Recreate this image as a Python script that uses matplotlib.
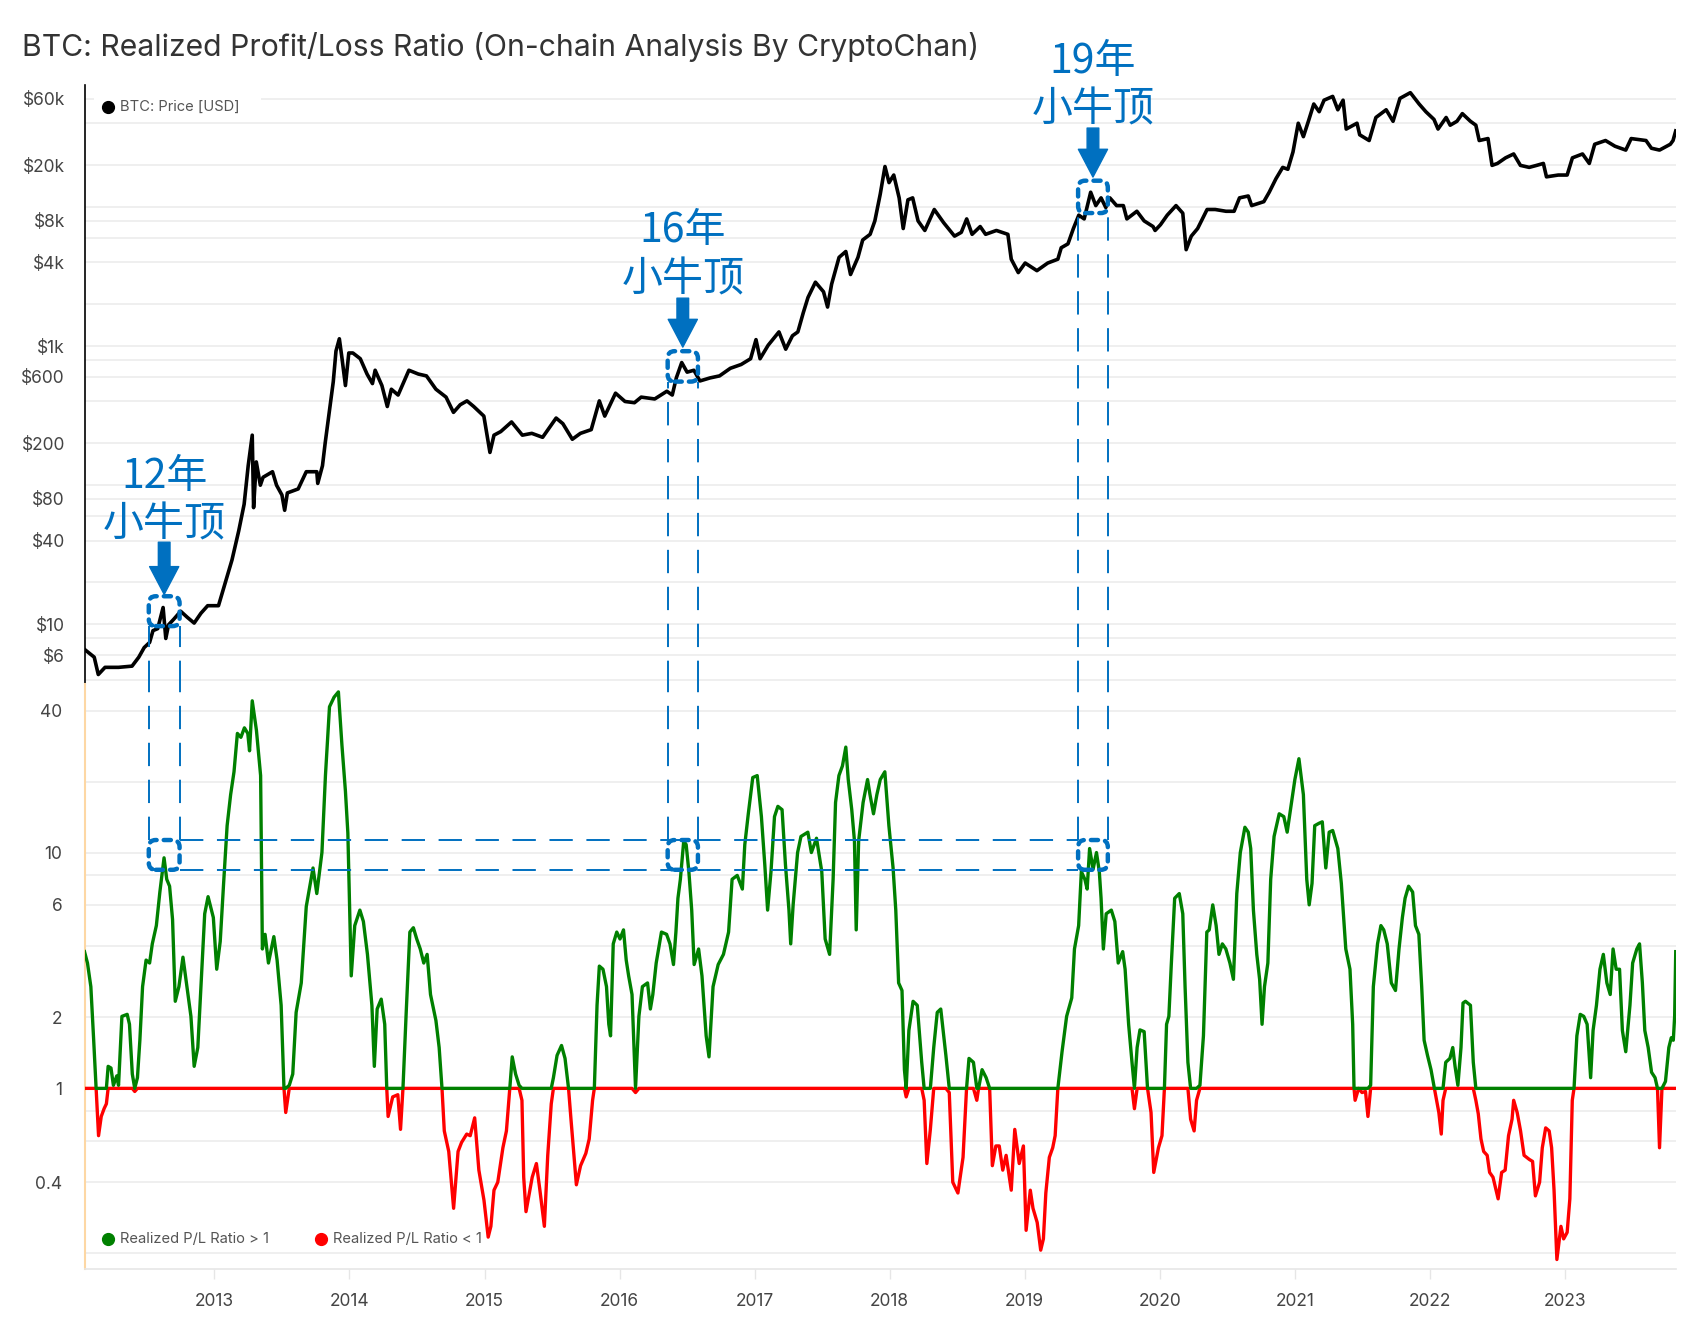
import numpy as np
import matplotlib
matplotlib.use("Agg")
import matplotlib.pyplot as plt
from matplotlib.patches import FancyBboxPatch, FancyArrowPatch
from matplotlib.transforms import IdentityTransform

plt.rcParams['font.family'] = ['Inter', 'DejaVu Sans']

# ---------------- data ----------------
price_years = [2012.038, 2012.11, 2012.14, 2012.19, 2012.29, 2012.39, 2012.44, 2012.48, 2012.52, 2012.545,
               2012.58, 2012.62, 2012.64, 2012.66, 2012.70, 2012.75, 2012.80, 2012.85, 2012.90, 2012.95,
               2013.03, 2013.08, 2013.13, 2013.18, 2013.22, 2013.25, 2013.28, 2013.29, 2013.31, 2013.34,
               2013.36, 2013.43, 2013.46, 2013.50, 2013.52, 2013.54, 2013.62, 2013.68, 2013.758, 2013.765,
               2013.80, 2013.82, 2013.85, 2013.88, 2013.90, 2013.925, 2013.945, 2013.97, 2013.995, 2014.025,
               2014.08, 2014.13, 2014.17, 2014.19, 2014.24, 2014.28, 2014.31, 2014.36, 2014.44, 2014.51,
               2014.57, 2014.64, 2014.715, 2014.77, 2014.82, 2014.87, 2014.92, 2014.995, 2015.04, 2015.07,
               2015.12, 2015.20, 2015.28, 2015.35, 2015.43, 2015.53, 2015.58, 2015.65, 2015.71, 2015.79,
               2015.85, 2015.89, 2015.97, 2016.04, 2016.11, 2016.16, 2016.26, 2016.35, 2016.39, 2016.42,
               2016.46, 2016.50, 2016.55, 2016.595, 2016.67, 2016.74, 2016.82, 2016.90, 2016.97, 2017.01,
               2017.04, 2017.10, 2017.18, 2017.23, 2017.28, 2017.32, 2017.36, 2017.395, 2017.45, 2017.51,
               2017.54, 2017.57, 2017.625, 2017.675, 2017.71, 2017.765, 2017.80, 2017.855, 2017.89, 2017.93,
               2017.965, 2017.995, 2018.03, 2018.07, 2018.10, 2018.135, 2018.17, 2018.21, 2018.26, 2018.33,
               2018.40, 2018.48, 2018.53, 2018.57, 2018.61, 2018.67, 2018.71, 2018.79, 2018.875, 2018.90,
               2018.952, 2019.003, 2019.09, 2019.17, 2019.245, 2019.27, 2019.32, 2019.36, 2019.40, 2019.44,
               2019.488, 2019.526, 2019.565, 2019.60, 2019.63, 2019.68, 2019.73, 2019.756, 2019.83, 2019.884,
               2019.95, 2019.965, 2020.005, 2020.055, 2020.12, 2020.17, 2020.195, 2020.233, 2020.28, 2020.35,
               2020.41, 2020.49, 2020.55, 2020.59, 2020.655, 2020.68, 2020.77, 2020.81, 2020.86, 2020.91,
               2020.948, 2020.986, 2021.025, 2021.063, 2021.10, 2021.14, 2021.18, 2021.216, 2021.28, 2021.318,
               2021.357, 2021.38, 2021.46, 2021.48, 2021.55, 2021.60, 2021.676, 2021.727, 2021.778, 2021.855,
               2021.92, 2021.97, 2022.03, 2022.06, 2022.12, 2022.15, 2022.20, 2022.24, 2022.30, 2022.34,
               2022.365, 2022.43, 2022.46, 2022.50, 2022.56, 2022.62, 2022.67, 2022.735, 2022.79, 2022.84,
               2022.863, 2022.95, 2023.016, 2023.055, 2023.13, 2023.18, 2023.22, 2023.30, 2023.37, 2023.45,
               2023.49, 2023.60, 2023.64, 2023.70, 2023.78, 2023.80, 2023.82]
price_usd = [6.6, 5.8, 4.35, 4.9, 4.9, 5.0, 5.8, 6.8, 7.4, 9.0,
             9.3, 13.2, 7.9, 9.9, 10.9, 12.4, 11.2, 10.2, 12.0, 13.6,
             13.6, 19.9, 29, 47, 73, 138, 229, 69, 147, 100,
             114, 125, 100, 85, 66, 88, 94, 125, 125, 103,
             138, 201, 334, 555, 922, 1130, 812, 521, 893, 893,
             812, 630, 538, 671, 521, 368, 490, 445, 671, 630,
             611, 490, 430, 334, 379, 404, 368, 314, 172, 229,
             243, 285, 229, 236, 221, 304, 277, 214, 236, 251,
             404, 314, 459, 400, 392, 430, 417, 474, 445, 591,
             762, 650, 671, 562, 591, 611, 693, 738, 812, 1114,
             812, 1015, 1266, 951, 1188, 1266, 1738, 2239, 2884, 2460,
             1910, 2793, 4350, 4795, 3275, 4350, 5800, 6370, 7955, 12400,
             19580, 15000, 17000, 11650, 7010, 11280, 11650, 7955, 6790, 9610,
             7710, 6180, 6580, 8220, 6370, 7245, 6370, 6790, 6370, 4220,
             3380, 3960, 3490, 3960, 4220, 5100, 5440, 7010, 8750, 8220,
             12790, 10250, 11650, 9930, 11650, 10250, 10250, 8220, 9330, 7955,
             7245, 6790, 7470, 8750, 10250, 9040, 4940, 6180, 7010, 9610,
             9610, 9330, 9330, 11650, 12020, 10250, 10940, 12790, 16000, 19300,
             18700, 24900, 40100, 32100, 41400, 55100, 48500, 58700, 62500, 50100,
             58700, 36400, 40100, 33100, 30100, 44100, 50100, 41400, 60500, 66500,
             55100, 48500, 42700, 36400, 44100, 38800, 41400, 47000, 41400, 38800,
             30100, 31100, 19950, 20600, 22600, 24100, 19950, 19300, 19950, 20600,
             16500, 17000, 17000, 22600, 24100, 20600, 28300, 30100, 27400, 25700,
             31100, 30100, 26500, 25700, 28300, 30100, 35300]

ratio_years = [2012.038, 2012.06, 2012.085, 2012.106, 2012.124, 2012.142, 2012.162, 2012.183, 2012.20, 2012.213,
               2012.234, 2012.252, 2012.277, 2012.290, 2012.315, 2012.354, 2012.371, 2012.392, 2012.41, 2012.43,
               2012.448, 2012.468, 2012.494, 2012.52, 2012.54, 2012.57, 2012.596, 2012.627, 2012.647, 2012.668,
               2012.69, 2012.71, 2012.737, 2012.767, 2012.80, 2012.826, 2012.85, 2012.877, 2012.90, 2012.928,
               2012.953, 2012.992, 2013.017, 2013.043, 2013.068, 2013.094, 2013.12, 2013.145, 2013.17, 2013.196,
               2013.222, 2013.247, 2013.26, 2013.28, 2013.311, 2013.342, 2013.355, 2013.375, 2013.40, 2013.44,
               2013.464, 2013.494, 2013.515, 2013.528, 2013.554, 2013.58, 2013.605, 2013.643, 2013.68, 2013.73,
               2013.758, 2013.796, 2013.822, 2013.852, 2013.886, 2013.918, 2013.944, 2013.97, 2013.988, 2014.013,
               2014.039, 2014.077, 2014.103, 2014.133, 2014.166, 2014.184, 2014.205, 2014.235, 2014.261, 2014.276,
               2014.286, 2014.32, 2014.358, 2014.378, 2014.396, 2014.42, 2014.447, 2014.473, 2014.498, 2014.524,
               2014.55, 2014.575, 2014.60, 2014.64, 2014.664, 2014.685, 2014.702, 2014.735, 2014.771, 2014.804,
               2014.83, 2014.868, 2014.894, 2014.927, 2014.958, 2014.996, 2015.027, 2015.047, 2015.07, 2015.098,
               2015.136, 2015.162, 2015.187, 2015.205, 2015.23, 2015.256, 2015.277, 2015.29, 2015.307, 2015.328,
               2015.353, 2015.384, 2015.41, 2015.443, 2015.468, 2015.494, 2015.51, 2015.537, 2015.57, 2015.596,
               2015.622, 2015.64, 2015.68, 2015.711, 2015.75, 2015.775, 2015.80, 2015.813, 2015.833, 2015.85,
               2015.877, 2015.903, 2015.92, 2015.933, 2015.953, 2015.979, 2016.003, 2016.029, 2016.049, 2016.067,
               2016.092, 2016.118, 2016.143, 2016.169, 2016.207, 2016.228, 2016.246, 2016.271, 2016.31, 2016.348,
               2016.373, 2016.399, 2016.417, 2016.432, 2016.45, 2016.475, 2016.493, 2016.513, 2016.534, 2016.552,
               2016.585, 2016.61, 2016.641, 2016.662, 2016.692, 2016.73, 2016.769, 2016.807, 2016.833, 2016.871,
               2016.909, 2016.927, 2016.953, 2016.986, 2017.019, 2017.05, 2017.075, 2017.096, 2017.121, 2017.147,
               2017.172, 2017.203, 2017.228, 2017.254, 2017.267, 2017.285, 2017.318, 2017.343, 2017.394, 2017.42,
               2017.458, 2017.497, 2017.522, 2017.555, 2017.581, 2017.599, 2017.624, 2017.65, 2017.675, 2017.693,
               2017.719, 2017.739, 2017.752, 2017.77, 2017.803, 2017.836, 2017.854, 2017.88, 2017.905, 2017.93,
               2017.964, 2017.994, 2018.025, 2018.045, 2018.066, 2018.091, 2018.109, 2018.122, 2018.142, 2018.173,
               2018.204, 2018.237, 2018.255, 2018.275, 2018.301, 2018.326, 2018.352, 2018.378, 2018.416, 2018.441,
               2018.467, 2018.505, 2018.543, 2018.569, 2018.587, 2018.62, 2018.645, 2018.658, 2018.684, 2018.714,
               2018.74, 2018.76, 2018.786, 2018.811, 2018.837, 2018.862, 2018.90, 2018.926, 2018.959, 2018.99,
               2019.01, 2019.041, 2019.061, 2019.092, 2019.118, 2019.138, 2019.156, 2019.182, 2019.207, 2019.225,
               2019.245, 2019.276, 2019.31, 2019.348, 2019.368, 2019.399, 2019.419, 2019.445, 2019.462, 2019.48,
               2019.506, 2019.531, 2019.552, 2019.565, 2019.582, 2019.603, 2019.641, 2019.667, 2019.692, 2019.725,
               2019.743, 2019.769, 2019.794, 2019.812, 2019.832, 2019.853, 2019.884, 2019.909, 2019.935, 2019.955,
               2019.99, 2020.016, 2020.034, 2020.05, 2020.067, 2020.085, 2020.11, 2020.144, 2020.17, 2020.187,
               2020.208, 2020.228, 2020.254, 2020.272, 2020.297, 2020.323, 2020.348, 2020.366, 2020.392, 2020.417,
               2020.438, 2020.463, 2020.489, 2020.519, 2020.545, 2020.570, 2020.596, 2020.63, 2020.655, 2020.673,
               2020.693, 2020.718, 2020.739, 2020.757, 2020.775, 2020.80, 2020.821, 2020.846, 2020.884, 2020.918,
               2020.943, 2020.969, 2021.0, 2021.03, 2021.063, 2021.088, 2021.106, 2021.127, 2021.147, 2021.178,
               2021.203, 2021.229, 2021.254, 2021.28, 2021.318, 2021.344, 2021.377, 2021.408, 2021.428, 2021.438,
               2021.446, 2021.472, 2021.497, 2021.523, 2021.541, 2021.561, 2021.581, 2021.612, 2021.637, 2021.658,
               2021.684, 2021.714, 2021.745, 2021.771, 2021.796, 2021.816, 2021.842, 2021.872, 2021.893, 2021.918,
               2021.939, 2021.957, 2021.982, 2022.008, 2022.033, 2022.066, 2022.084, 2022.097, 2022.117, 2022.148,
               2022.169, 2022.186, 2022.207, 2022.23, 2022.245, 2022.263, 2022.30, 2022.321, 2022.34, 2022.358,
               2022.378, 2022.398, 2022.424, 2022.442, 2022.467, 2022.505, 2022.531, 2022.557, 2022.582, 2022.608,
               2022.62, 2022.646, 2022.671, 2022.697, 2022.735, 2022.76, 2022.781, 2022.812, 2022.832, 2022.857,
               2022.883, 2022.901, 2022.919, 2022.94, 2022.97, 2022.99, 2023.016, 2023.036, 2023.054, 2023.067,
               2023.088, 2023.113, 2023.139, 2023.164, 2023.19, 2023.208, 2023.233, 2023.259, 2023.284, 2023.31,
               2023.335, 2023.356, 2023.379, 2023.404, 2023.425, 2023.45, 2023.481, 2023.501, 2023.532, 2023.552,
               2023.573, 2023.591, 2023.616, 2023.641, 2023.667, 2023.685, 2023.70, 2023.718, 2023.744, 2023.769,
               2023.787, 2023.802, 2023.812, 2023.82]
ratio_values = [3.8, 3.4, 2.7, 1.6, 1.0, 0.63, 0.76, 0.82, 0.86, 1.24,
                1.22, 1.03, 1.13, 1.03, 2.02, 2.06, 1.87, 1.15, 0.97, 1.11,
                1.6, 2.7, 3.5, 3.4, 4.1, 4.9, 6.8, 9.5, 7.7, 7.2,
                5.2, 2.34, 2.7, 3.6, 2.6, 2.02, 1.24, 1.49, 2.7, 5.5,
                6.5, 5.3, 3.2, 4.2, 7.4, 13.0, 17.6, 22, 32, 30.8,
                33.8, 32, 27, 44, 33, 21.2, 3.9, 4.5, 3.4, 4.4,
                3.5, 2.25, 1.0, 0.79, 1.03, 1.15, 2.1, 2.8, 5.9, 8.6,
                6.7, 10.0, 21.2, 41.5, 45.6, 48, 28.6, 18.2, 12.1, 3.0,
                4.9, 5.7, 5.1, 3.7, 2.25, 1.24, 2.17, 2.39, 1.87, 1.0,
                0.76, 0.92, 0.94, 0.67, 1.0, 2.1, 4.6, 4.8, 4.3, 3.9,
                3.4, 3.7, 2.5, 1.94, 1.49, 1.0, 0.66, 0.54, 0.31, 0.54,
                0.59, 0.64, 0.63, 0.75, 0.45, 0.335, 0.234, 0.26, 0.37, 0.40,
                0.56, 0.66, 1.0, 1.36, 1.15, 1.03, 0.89, 0.42, 0.30, 0.35,
                0.42, 0.48, 0.37, 0.26, 0.52, 0.86, 1.11, 1.38, 1.52, 1.34,
                1.0, 0.74, 0.39, 0.47, 0.53, 0.61, 0.89, 1.0, 2.25, 3.3,
                3.2, 2.7, 1.87, 1.67, 4.1, 4.6, 4.3, 4.7, 3.5, 3.0,
                2.5, 0.96, 2.02, 2.7, 2.8, 2.17, 2.5, 3.4, 4.6, 4.5,
                4.1, 3.35, 4.6, 6.4, 7.7, 11.2, 10.8, 8.3, 5.7, 3.35,
                3.9, 3.0, 1.67, 1.36, 2.7, 3.35, 3.7, 4.6, 7.7, 8.0,
                7.0, 10.8, 14.6, 20.8, 21.2, 14.2, 8.9, 5.7, 8.3, 14.2,
                15.7, 15.2, 8.9, 5.7, 4.1, 6.0, 10.0, 11.7, 12.2, 10.0,
                11.5, 8.3, 4.3, 3.7, 7.7, 16.3, 21.2, 23.3, 28, 20.4,
                15.2, 11.2, 4.7, 11.2, 16.3, 20.4, 17.6, 14.6, 17.6, 20.4,
                22, 13, 8.6, 5.7, 2.8, 2.6, 1.2, 0.92, 1.76, 2.34,
                2.25, 1.29, 0.89, 0.48, 0.67, 1.49, 2.1, 2.17, 1.38, 0.96,
                0.40, 0.36, 0.51, 1.0, 1.34, 1.29, 0.89, 1.0, 1.2, 1.11,
                1.0, 0.47, 0.57, 0.57, 0.45, 0.52, 0.37, 0.67, 0.48, 0.57,
                0.25, 0.37, 0.31, 0.27, 0.206, 0.23, 0.36, 0.51, 0.56, 0.63,
                1.0, 1.43, 2.02, 2.42, 3.9, 4.9, 8.3, 7.7, 7.0, 10.4,
                8.5, 10.0, 8.3, 6.4, 3.9, 5.5, 5.7, 5.1, 3.4, 3.8,
                3.2, 1.87, 1.29, 0.82, 1.49, 1.77, 1.74, 1.0, 0.79, 0.44,
                0.56, 0.63, 1.0, 1.87, 2.02, 3.35, 6.4, 6.7, 5.5, 2.7,
                1.29, 0.74, 0.66, 0.89, 1.03, 1.67, 4.6, 4.7, 6.0, 4.9,
                3.7, 4.1, 3.9, 3.4, 2.9, 6.7, 10.0, 12.8, 12.2, 10.4,
                5.7, 3.7, 2.9, 1.87, 2.7, 3.4, 7.7, 11.7, 14.6, 14.2,
                12.2, 15.4, 20.4, 25, 17.6, 7.7, 6.0, 7.4, 13, 13.3,
                13.5, 8.6, 12.2, 12.4, 10.4, 7.4, 3.9, 3.2, 1.87, 1.0,
                0.89, 1.0, 0.96, 0.97, 0.76, 1.03, 2.7, 4.1, 4.9, 4.7,
                4.1, 2.8, 2.6, 3.9, 5.3, 6.4, 7.2, 6.8, 4.9, 4.5,
                2.7, 1.6, 1.38, 1.2, 1.0, 0.79, 0.64, 0.89, 1.29, 1.34,
                1.49, 1.24, 1.03, 1.49, 2.3, 2.34, 2.25, 1.29, 0.89, 0.78,
                0.61, 0.54, 0.52, 0.44, 0.42, 0.34, 0.44, 0.45, 0.63, 0.74,
                0.89, 0.79, 0.66, 0.52, 0.50, 0.49, 0.35, 0.40, 0.56, 0.68,
                0.66, 0.56, 0.37, 0.188, 0.26, 0.23, 0.245, 0.34, 0.89, 1.0,
                1.67, 2.06, 2.02, 1.87, 1.11, 1.76, 2.25, 3.2, 3.7, 2.8,
                2.5, 3.9, 3.2, 3.2, 1.76, 1.43, 2.25, 3.4, 3.9, 4.1,
                2.8, 1.76, 1.49, 1.17, 1.11, 1.0, 0.56, 1.0, 1.07, 1.49,
                1.64, 1.6, 2.02, 3.8]

price_ticks = [6, 10, 40, 80, 200, 600, 1000, 4000, 8000, 20000, 60000]
price_tick_labels = ['$6', '$10', '$40', '$80', '$200', '$600', '$1k', '$4k', '$8k', '$20k', '$60k']
price_grid = [4, 6, 8, 10, 20, 40, 60, 80, 100, 200, 400, 600, 800, 1000, 2000, 4000, 6000,
              8000, 10000, 20000, 40000, 60000]
ratio_ticks = [0.4, 1, 2, 6, 10, 40]
ratio_tick_labels = ['0.4', '1', '2', '6', '10', '40']
ratio_grid = [0.2, 0.4, 0.6, 0.8, 1, 2, 4, 6, 8, 10, 20, 40]
year_ticks = list(range(2013, 2024))
year_labels = [str(y) for y in year_ticks]

title = "BTC: Realized Profit/Loss Ratio (On-chain Analysis By CryptoChan)"
top_labels = ["12年", "16年", "19年"]
sub_label = "小牛顶"
windows = [(2012.514, 2012.742), (2016.356, 2016.580), (2019.395, 2019.615)]
price_boxes = [(9.7, 15.9), (556, 920), (9060, 15480)]
ratio_band = (8.45, 11.3)
arrow_spans = [(38.9, 16.4), (2213, 984), (37000, 16440)]
label_levels = [(115, 52), (6800, 3000), (111000, 50000)]

# ---------------- figure ----------------
W, H = 1698, 1342
fig = plt.figure(figsize=(W / 100, H / 100), dpi=100)
fig.patch.set_facecolor('white')

def fx(px):
    return px / W

def fy(py):
    return 1 - py / H

left, right = 84.5, 1676
top_t, top_b = 85, 683.5
bot_t, bot_b = 683.5, 1269
ax1 = fig.add_axes([fx(left), fy(top_b), fx(right) - fx(left), (top_b - top_t) / H])
ax2 = fig.add_axes([fx(left), fy(bot_b), fx(right) - fx(left), (bot_b - bot_t) / H], sharex=ax1)

XMIN, XMAX = 2012.038, 2023.822
BLUE = '#0070c0'
GRID = '#eeeeee'
TXT = '#444444'

# price panel
ax1.plot(price_years, price_usd, color='black', lw=2.6, zorder=3, solid_joinstyle='round')
ax1.set_yscale('log')
ax1.set_ylim(3.75, 75500)
ax1.set_xlim(XMIN, XMAX)
ax1.set_yticks(price_grid, minor=True)
ax1.set_yticks(price_ticks)
ax1.set_yticklabels(price_tick_labels)
ax1.yaxis.set_minor_formatter(matplotlib.ticker.NullFormatter())
ax1.grid(True, which='both', axis='y', color=GRID, lw=1.3, zorder=0)
ax1.tick_params(axis='y', which='both', length=0, pad=14, labelsize=12.5, labelcolor=TXT)
ax1.tick_params(axis='x', which='both', length=0, labelbottom=False)
for s in ['top', 'right', 'bottom']:
    ax1.spines[s].set_visible(False)
ax1.spines['left'].set_color('black')
ax1.spines['left'].set_linewidth(1.2)

# ratio panel
r = np.array(ratio_values)
ax2.plot(ratio_years, np.minimum(r, 1.0), color='#ff0000', lw=2.4, zorder=3, solid_joinstyle='round')
ax2.plot(ratio_years, np.maximum(r, 1.0), color='#008000', lw=2.4, zorder=4, solid_joinstyle='round')
ax2.set_yscale('log')
ax2.set_ylim(0.1714, 52.1)
ax2.set_yticks(ratio_grid, minor=True)
ax2.set_yticks(ratio_ticks)
ax2.set_yticklabels(ratio_tick_labels)
ax2.yaxis.set_minor_formatter(matplotlib.ticker.NullFormatter())
ax2.grid(True, which='both', axis='y', color=GRID, lw=1.3, zorder=0)
ax2.tick_params(axis='y', which='both', length=0, pad=16, labelsize=12.5, labelcolor=TXT)
ax2.set_xticks(year_ticks)
ax2.set_xticklabels(year_labels)
ax2.tick_params(axis='x', which='major', length=7, width=1, color='#e6e6e6', pad=10,
                labelsize=12.5, labelcolor=TXT)
ax2.tick_params(axis='x', which='minor', length=0)
for s in ['top', 'right']:
    ax2.spines[s].set_visible(False)
ax2.spines['bottom'].set_color('#e6e6e6')
ax2.spines['bottom'].set_linewidth(1.2)
ax2.spines['left'].set_color('#fdd7a4')
ax2.spines['left'].set_linewidth(1.5)

# title
fig.text(fx(22), fy(46.6), title, ha='left', va='center', fontsize=21.7, color='#333333')

# legends
ax1.add_patch(plt.Rectangle((0.006, 0.945), 0.105, 0.036, transform=ax1.transAxes,
                            facecolor='white', edgecolor='none', zorder=2))
ax1.plot([(108 - left) / (right - left)], [0.963], 'o', ms=8.5, color='black',
         transform=ax1.transAxes, zorder=5, clip_on=False)
ax1.text((120 - left) / (right - left), 0.963, "BTC: Price [USD]", transform=ax1.transAxes,
         ha='left', va='center', fontsize=10.6, color='#555555', zorder=5)
yl = (bot_b - 1239) / (bot_b - bot_t)
ax2.plot([(108 - left) / (right - left)], [yl], 'o', ms=8.5, color='#008000',
         transform=ax2.transAxes, zorder=5)
ax2.text((120 - left) / (right - left), yl, "Realized P/L Ratio > 1", transform=ax2.transAxes,
         ha='left', va='center', fontsize=10.6, color='#555555', zorder=5)
ax2.plot([(320.6 - left) / (right - left)], [yl], 'o', ms=8.5, color='#ff0000',
         transform=ax2.transAxes, zorder=5)
ax2.text((333 - left) / (right - left), yl, "Realized P/L Ratio < 1", transform=ax2.transAxes,
         ha='left', va='center', fontsize=10.6, color='#555555', zorder=5)

# ---------------- annotations ----------------
DASH = dict(color=BLUE, lw=1.4, dashes=(12, 7), zorder=6)
cjk = ['Noto Sans CJK SC', 'DejaVu Sans']

def dotted_box(ax, x0, x1, y0, y1):
    X0, Y0 = ax.transData.transform((x0, y0))
    X1, Y1 = ax.transData.transform((x1, y1))
    p = FancyBboxPatch((X0, Y0), X1 - X0, Y1 - Y0,
                       boxstyle="round,pad=0,rounding_size=7",
                       transform=IdentityTransform(), fill=False, edgecolor=BLUE,
                       linewidth=3.2, linestyle=(0, (1.6, 1.6)), capstyle='round', zorder=7)
    fig.add_artist(p)

for (x0, x1), (pb0, pb1), (a0, a1), (l0, l1), lab in zip(windows, price_boxes, arrow_spans,
                                                        label_levels, top_labels):
    xm = (x0 + x1) / 2
    for xv in (x0, x1):
        ax1.plot([xv, xv], [3.75, pb0], **DASH)
        ax2.plot([xv, xv], [ratio_band[1], 52.1], **DASH)
    dotted_box(ax1, x0, x1, pb0, pb1)
    dotted_box(ax2, x0, x1, ratio_band[0], ratio_band[1])
    arr = FancyArrowPatch((xm, a0), (xm, a1),
                          arrowstyle="simple,head_length=1.0,head_width=1.05,tail_width=0.42",
                          mutation_scale=20, color=BLUE, shrinkA=0, shrinkB=0, zorder=8)
    ax1.add_patch(arr)
    ax1.text(xm, l0, lab, ha='center', va='center', fontsize=29.5, color=BLUE, family=cjk,
             zorder=8, clip_on=False)
    ax1.text(xm, l1, sub_label, ha='center', va='center', fontsize=29.5, color=BLUE, family=cjk,
             zorder=8, clip_on=False)

for yv in ratio_band:
    ax2.plot([windows[0][1], windows[2][0]], [yv, yv], **DASH)

fig.savefig('out.png', dpi=100, facecolor='white')
